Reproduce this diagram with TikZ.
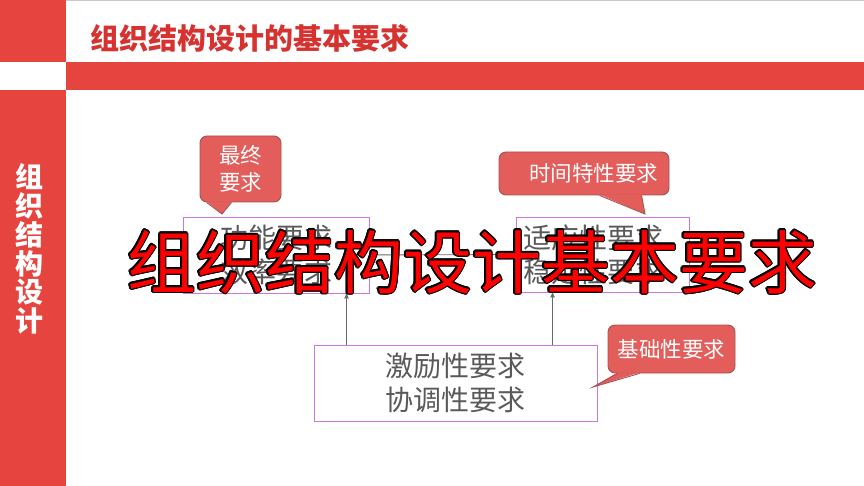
\documentclass[tikz,border=0pt]{standalone}
\usepackage{fontspec}
\setmainfont{Noto Sans CJK SC}
\usepackage{tikz}
\usetikzlibrary{arrows, calc}
\definecolor{headred}{HTML}{E5443F}
\definecolor{titlered}{HTML}{D63230}
\definecolor{calloutfill}{HTML}{E35D5B}
\definecolor{calloutline}{HTML}{A65250}
\definecolor{boxline}{HTML}{CC77DD}
\definecolor{reqgray}{HTML}{595959}
\definecolor{linkgray}{HTML}{6A6A6A}
\definecolor{topline}{HTML}{C8C8C8}
\tikzset{
		req box/.style={draw=boxline, line width=0.9pt, inner sep=0pt, align=center,
			text=reqgray, font=\fontsize{28}{34}\selectfont},
		callout body/.style={fill=calloutfill, draw=calloutline, line width=0.9pt,
			rounded corners=7pt, inner sep=0pt, align=center, text=white,
			font=\fontsize{21.5}{27}\selectfont},
		callout edge/.style={draw=calloutline, line width=0.9pt},
		link/.style={draw=linkgray, line width=0.9pt},
		banner/.style={font=\fontsize{69}{69}\selectfont, text=red, inner sep=0pt},
		banner outline/.style={banner, text=black}
	}

\begin{document}
\begin{tikzpicture}[>=stealth', x=1pt, y=-1pt]
				\useasboundingbox (0,0) rectangle (864,486);
				\fill[headred] (0,0) rectangle (66,62);
				\fill[headred] (66,62) rectangle (864,90);
				\fill[headred] (0,90) rectangle (66,486);
				\fill[topline] (66,0) rectangle (864,1.5);
				\node[anchor=west, inner sep=0pt, text=titlered,
					font=\fontsize{29}{29}\selectfont\bfseries] (title) at (90,38) {组织结构设计的基本要求};
				\node[inner sep=0pt, align=center, text=white,
					font=\fontsize{28}{28.7}\selectfont\bfseries] (side) at (29,249) {组\\织\\结\\构\\设\\计};

				\node[req box, minimum width=186pt, minimum height=76pt] (func) at (276,255) {功能要求\\效率要求};
				\node[req box, text width=159pt, inner xsep=7pt, align=left, minimum height=75pt] (adapt) at (602.5,254.5) {适应性要求\\稳定性要求};
				\node[req box, minimum width=283pt, minimum height=76pt] (motiv) at (455.5,383) {激励性要求\\协调性要求};
				\coordinate (leftfoot) at ([xshift=33pt]motiv.north west);
				\coordinate (rightfoot) at ([xshift=239pt]motiv.north west);
				\path[link, ->] (func) edge (adapt);
				\draw[link, ->] (leftfoot) -- (leftfoot |- func.south);
				\draw[link, ->] (rightfoot) -- (rightfoot |- adapt.south);

				\node[callout body, minimum width=81pt, minimum height=66pt] (final) at (240.5,169) {最终\\要求};
				\coordinate (finaltip) at (222,214);
				\fill[calloutfill] ([xshift=7pt, yshift=1pt]final.south west) -- (finaltip) -- ([xshift=32pt, yshift=1pt]final.south west) -- cycle;
				\draw[callout edge] ([xshift=7pt]final.south west) -- (finaltip) -- ([xshift=32pt]final.south west);

				\node[callout body, text width=148pt, inner xsep=11pt, align=right, minimum height=43pt] (timing) at (584,173.5) {时间特性要求};
				\coordinate (timingtip) at (645,214);
				\fill[calloutfill] ([xshift=101pt, yshift=1pt]timing.south west) -- (timingtip) -- ([xshift=143pt, yshift=1pt]timing.south west) -- cycle;
				\draw[callout edge] ([xshift=101pt]timing.south west) -- (timingtip) -- ([xshift=143pt]timing.south west);

				\node[callout body, minimum width=127pt, minimum height=48pt] (basis) at (671.5,349) {基础性要求};
				\coordinate (basistip) at (593,387);
				\fill[calloutfill] ([xshift=10pt, yshift=1pt]basis.south west) -- (basistip) -- ([xshift=32pt, yshift=1pt]basis.south west) -- cycle;
				\draw[callout edge] ([xshift=10pt]basis.south west) -- (basistip) -- ([xshift=32pt]basis.south west);

				\foreach \ang [count=\i] in {0,30,...,330}
					\node[banner outline] (outline\i) at ({472+1.4*cos(\ang)},{262+1.4*sin(\ang)}) {组织结构设计基本要求};
				\node[banner] (banner) at (472,262) {组织结构设计基本要求};
			\end{tikzpicture}
\end{document}
